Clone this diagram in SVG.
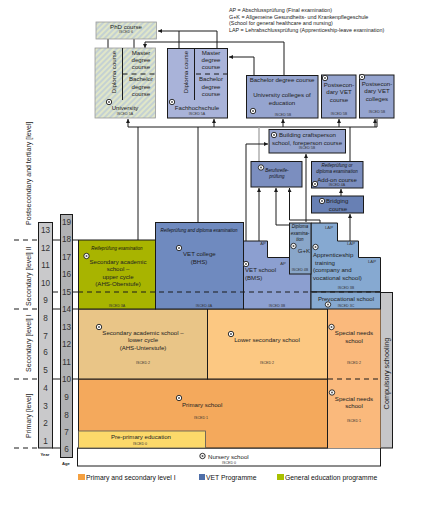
<svg xmlns="http://www.w3.org/2000/svg" width="423" height="513" viewBox="0 0 423 513">
<style>
text{font-family:"Liberation Sans",Arial,sans-serif;fill:#222;font-size:6.1px}
.m{text-anchor:middle}
.s{font-size:3.6px;text-anchor:middle;fill:#333}
.e{font-size:4.5px;font-style:italic;text-anchor:middle;fill:#111}
.l{font-size:4.2px;text-anchor:middle;fill:#333}
.n{font-size:8.2px;text-anchor:middle;fill:#333}
.k{font-size:6.8px;fill:#111}
.v{font-size:7px}
.y{font-size:4.2px;font-weight:bold;text-anchor:middle;fill:#222}
.b{stroke:#1a1a1a;stroke-width:1}
.c{fill:none;stroke:#1a1a1a;stroke-width:1}
.d{fill:none;stroke:#1a1a1a;stroke-width:1;stroke-dasharray:5 4}
.o{fill:#fff;stroke:#1a1a1a;stroke-width:.9}
.i{fill:#555}
</style>
<defs>
<pattern id="h" width="4" height="4" patternUnits="userSpaceOnUse" patternTransform="rotate(45)">
<rect width="4" height="4" fill="#e0e6c8"/><rect width="2" height="4" fill="#c4d1d3"/>
</pattern>
<marker id="a" markerWidth="5" markerHeight="5" refX="4" refY="2" orient="auto" markerUnits="userSpaceOnUse"><path d="M0 0L4 2L0 4Z" fill="#1a1a1a"/></marker>
<symbol id="q" viewBox="-3 -3 6 6" overflow="visible"><circle r="2.7" class="o"/><circle r="1" class="i"/></symbol>
</defs>

<g id="connectors">
<path class="c" d="M128 127H377V119M138 127V240M198 127V222M350 127V161" />
<path class="c" d="M259 127V161" style="stroke:#aaa;stroke-width:1.4"/>
<path class="c" d="M128 127V119" marker-end="url(#a)"/>
<path class="c" d="M214 127V119" marker-end="url(#a)"/>
<path class="c" d="M283 127V119" marker-end="url(#a)"/>
<path class="c" d="M339 127V119" marker-end="url(#a)"/>
<path class="c" d="M375 127V119" marker-end="url(#a)"/>
<path class="c" d="M217 48V31H158" marker-end="url(#a)"/>
<path class="c" d="M179 31V48M108 39V48M134 39V48"/>
<path class="c" d="M284 75V42H145V48" marker-end="url(#a)"/>
<path class="c" d="M254 75V57H229" marker-end="url(#a)"/>
<path class="c" d="M246 241V144H268" marker-end="url(#a)"/>
<path class="c" d="M259 241V188" marker-end="url(#a)"/>
<path class="c" d="M289 225H276V188" marker-end="url(#a)"/>
<path class="c" d="M320 224V220H289.500V188" marker-end="url(#a)"/>
<path class="c" d="M306 222V154" marker-end="url(#a)"/>
<path class="c" d="M341 196V189" marker-end="url(#a)"/>
<path class="c" d="M350 241V214" marker-end="url(#a)"/>
</g>

<g id="scale">
<rect x="38.500" y="222.500" width="14" height="225.500" fill="#c9c9cb" class="b"/>
<rect x="60.500" y="214.500" width="12" height="243" fill="#b1b2b4" class="b"/>
<path class="c" d="M52 240H60M72 240H78M52 309H60M72 309H78M52 379H60M72 379H78M52 448H60"/>
<path class="d" d="M14 240H38M14 309H38M14 379H38M14 448H38"/>
<path class="d" d="M53 292H60M73 292H78" stroke-dasharray="3 2"/>
<g>
<text class="n" x="45.500" y="233">13</text><text class="n" x="45.500" y="251">12</text><text class="n" x="45.500" y="268">11</text><text class="n" x="45.500" y="286">10</text><text class="n" x="45.500" y="303">9</text><text class="n" x="45.500" y="321">8</text><text class="n" x="45.500" y="339">7</text><text class="n" x="45.500" y="355">6</text><text class="n" x="45.500" y="373">5</text><text class="n" x="45.500" y="391">4</text><text class="n" x="45.500" y="409">3</text><text class="n" x="45.500" y="426">2</text><text class="n" x="45.500" y="444">1</text>
<text class="n" x="66.500" y="225">19</text><text class="n" x="66.500" y="242">18</text><text class="n" x="66.500" y="260">17</text><text class="n" x="66.500" y="277">16</text><text class="n" x="66.500" y="295">15</text><text class="n" x="66.500" y="312">14</text><text class="n" x="66.500" y="330">13</text><text class="n" x="66.500" y="347">12</text><text class="n" x="66.500" y="365">11</text><text class="n" x="66.500" y="382">10</text><text class="n" x="66.500" y="400">9</text><text class="n" x="66.500" y="418">8</text><text class="n" x="66.500" y="435">7</text><text class="n" x="66.500" y="452">6</text>
</g>
<text class="y" x="45" y="456">Year</text>
<text class="y" x="66" y="465">Age</text>
<text class="v" transform="translate(31,225) rotate(-90)">Postsecondary and tertiary [level]</text>
<text class="v" transform="translate(31,306) rotate(-90)">Secondary [level] II</text>
<text class="v" transform="translate(31,372) rotate(-90)">Secondary [level] I</text>
<text class="v" transform="translate(31,438) rotate(-90)">Primary [level]</text>
</g>

<g id="phd"><rect x="96" y="22" width="60.500" height="17" fill="url(#h)" stroke="#999" stroke-width=".8"/>
<text class="m" x="126" y="28.500">PhD course</text><text class="s" x="126" y="33">ISCED 6</text></g>

<g id="university"><rect x="95" y="48" width="60.500" height="70" fill="url(#h)" stroke="#999" stroke-width=".8"/>
<path class="c" d="M122.500 48V100"/><path class="d" d="M122.500 74H156"/>
<text class="m" transform="translate(116,72) rotate(-90)">Diploma course</text>
<text class="m" x="141" y="55">Master</text><text class="m" x="141" y="62">degree</text><text class="m" x="141" y="69">course</text>
<text class="m" x="141" y="81">Bachelor</text><text class="m" x="141" y="89">degree</text><text class="m" x="141" y="96">course</text>
<use href="#q" x="106" y="99" width="6" height="6"/>
<text class="m" x="125" y="110">University</text><text class="s" x="125" y="115">ISCED 5A</text></g>

<g id="fachhochschule"><rect x="167.500" y="48.500" width="60" height="69.500" fill="#a9b3d9" class="b"/>
<path class="c" d="M194.500 48V100"/><path class="d" d="M196 74H228"/>
<text class="m" transform="translate(188,72) rotate(-90)">Diploma course</text>
<text class="m" x="211" y="55">Master</text><text class="m" x="211" y="62">degree</text><text class="m" x="211" y="69">course</text>
<text class="m" x="211" y="81">Bachelor</text><text class="m" x="211" y="89">degree</text><text class="m" x="211" y="96">course</text>
<use href="#q" x="169" y="99" width="6" height="6"/>
<text class="m" x="197" y="110">Fachhochschule</text><text class="s" x="197" y="115">ISCED 5A</text></g>

<g id="ucoe"><rect x="246.500" y="75.500" width="71.500" height="42.500" fill="#95a4cf" class="b"/>
<text class="m" x="282" y="82">Bachelor degree course</text><text class="m" x="282" y="97">University colleges of</text><text class="m" x="282" y="105">education</text>
<use href="#q" x="250" y="108" width="6" height="6"/><text class="s" x="283" y="115.500">ISCED 5B</text></g>

<g id="vetcourse"><rect x="321.500" y="75" width="34.500" height="43" fill="#95a4cf" class="b"/>
<use href="#q" x="322" y="75" width="6" height="6"/>
<text class="m" x="339" y="87">Postsecon-</text><text class="m" x="339" y="94">dary VET</text><text class="m" x="339" y="102">course</text><text class="s" x="339" y="115">ISCED 5B</text></g>

<g id="vetcolleges"><rect x="359.500" y="75" width="34.500" height="43" fill="#95a4cf" class="b"/>
<use href="#q" x="359" y="74" width="6" height="6"/>
<text class="m" x="377" y="86">Postsecon-</text><text class="m" x="377" y="93">dary VET</text><text class="m" x="377" y="101">colleges</text><text class="s" x="377" y="113">ISCED 5B</text></g>

<g id="building"><rect x="269" y="129.500" width="76.500" height="23.500" fill="#95a3cd" class="b"/>
<use href="#q" x="271" y="132" width="6" height="6"/>
<text x="279" y="137">Building craftsperson</text><text class="m" x="307" y="144.500">school, foreperson course</text><text class="s" x="307" y="149">ISCED 5B</text></g>

<g id="berufsreife"><rect x="251" y="161.500" width="51" height="25.500" fill="#7b8ebf" class="b"/>
<use href="#q" x="258" y="164.500" width="6" height="6"/>
<text class="e" x="277" y="172">Berufsreife-</text><text class="e" x="277" y="178">prüfung</text></g>

<g id="addon"><rect x="311.500" y="161.500" width="51.500" height="26.500" fill="#7b8ebf" class="b"/>
<text class="e" x="337" y="167">Reifeprüfung or</text><text class="e" x="337" y="173">diploma examination</text>
<text class="m" x="337" y="181.500">Add-on course</text><text class="s" x="337" y="185.500">ISCED 4A</text><use href="#q" x="312" y="181" width="6" height="6"/></g>

<g id="bridging"><rect x="311.500" y="196" width="52" height="17" fill="#6880b4" class="b"/>
<use href="#q" x="319" y="198" width="6" height="6"/>
<text x="326" y="203">Bridging</text><text class="m" x="338" y="211">course</text></g>

<g id="compulsory"><rect x="380.500" y="292.500" width="12" height="155.500" fill="#c6c6c8" class="b"/>
<text class="m" style="font-size:7.300px" transform="translate(388.500,373.500) rotate(-90)">Compulsory schooling</text></g>

<g id="nursery"><rect x="77.500" y="448" width="303" height="18" fill="#fff" class="b"/>
<use href="#q" x="199.500" y="453" width="6" height="6"/>
<text x="208" y="458.500">Nursery school</text><text class="s" x="229" y="463.500">ISCED 0</text></g>

<g id="primary"><rect x="78.500" y="379" width="249" height="69" fill="#f4a95c" class="b"/>
<use href="#q" x="176" y="395" width="6" height="6"/>
<text x="182" y="407">Primary school</text><text class="s" x="201" y="419">ISCED 1</text></g>

<g id="preprimary"><rect x="78.500" y="431" width="127" height="17" fill="#fcd96a" stroke="#555" stroke-width=".8"/>
<text class="m" x="141" y="439">Pre-primary education</text><text class="s" x="140" y="444.500">ISCED 0</text></g>

<g id="academic-lower"><rect x="78.500" y="309" width="129" height="70" fill="#e9c587" class="b"/>
<use href="#q" x="96" y="324" width="6" height="6"/>
<text class="m" x="143" y="335">Secondary academic school –</text><text class="m" x="143" y="342">lower cycle</text><text class="m" x="143" y="350">(AHS-Unterstufe)</text><text class="s" x="143" y="364">ISCED 2</text></g>

<g id="lower-secondary"><rect x="207.500" y="309" width="120" height="70" fill="#fcc882" class="b"/>
<use href="#q" x="228" y="331" width="6" height="6"/>
<text class="m" x="267" y="342">Lower secondary school</text><text class="s" x="267" y="364">ISCED 2</text></g>

<g id="special-2"><rect x="327.500" y="309" width="53" height="70" fill="#fab97c"/>
<use href="#q" x="328.500" y="324" width="6" height="6"/>
<text class="m" x="354" y="335">Special needs</text><text class="m" x="354" y="343">school</text><text class="s" x="354" y="364">ISCED 2</text></g>

<g id="special-1"><rect x="327.500" y="379" width="53" height="69" fill="#fab97c"/>
<use href="#q" x="329" y="389.500" width="6" height="6"/>
<text class="m" x="354" y="400.500">Special needs</text><text class="m" x="354" y="408">school</text><text class="s" x="354" y="422">ISCED 1</text></g>

<g id="ahs-upper"><rect x="78.500" y="240" width="77" height="69" fill="#a8b400" class="b"/>
<text class="e" x="117" y="250">Reifeprüfung examination</text>
<use href="#q" x="83.500" y="253" width="6" height="6"/>
<text class="m" x="118" y="264">Secondary academic</text><text class="m" x="118" y="270.500">school –</text><text class="m" x="118" y="279">upper cycle</text><text class="m" x="118" y="286">(AHS-Oberstufe)</text><text class="s" x="117" y="306.500">ISCED 3A</text></g>

<g id="vet-college"><rect x="155.500" y="222.500" width="88" height="86.500" fill="#6f8abf" class="b"/>
<text class="e" x="199" y="231.500">Reifeprüfung and diploma examination</text>
<use href="#q" x="176" y="245" width="6" height="6"/>
<text x="183" y="256">VET college</text><text class="m" x="199" y="264">(BHS)</text><text class="s" x="204" y="306.500">ISCED 4A</text></g>

<g id="vet-school"><path d="M243.500 309V241H267.500V257.500H311V309Z" fill="#8c9fd0" class="b"/>
<text class="l" x="263" y="245">AP</text><text class="l" x="283" y="265">AP</text>
<use href="#q" x="243" y="261" width="6" height="6"/>
<text x="245" y="272">VET school</text><text x="245" y="280">(BMS)</text><text class="s" x="277" y="306.500">ISCED 3B</text></g>

<g id="apprenticeship"><path d="M311 292V223H337.500V241H358.500V257.500H380.500V292Z" fill="#86a9d1" class="b"/>
<text class="l" x="329" y="229">LAP</text><text class="l" x="351" y="245">LAP</text><text class="l" x="372" y="263">LAP</text>
<use href="#q" x="312.500" y="244" width="6" height="6"/>
<text x="313" y="257">Apprenticeship</text><text x="315" y="264.500">training</text><text x="313" y="271.500">(company and</text><text x="313" y="279.500">vocational school)</text><text class="s" x="346" y="288.500">ISCED 3B</text></g>

<g id="diploma"><rect x="289.500" y="223" width="21.500" height="51" fill="#89a6c9" class="b"/>
<text class="e" x="300" y="228">Diploma</text><text class="e" x="300" y="234.500">examina-</text><text class="e" x="300" y="240.500">tion</text>
<use href="#q" x="290.500" y="243" width="6" height="6"/>
<text class="m" x="304" y="253">G+K</text><text class="s" x="300" y="270.500">ISCED 4B</text></g>

<g id="prevocational"><rect x="311" y="292" width="69.500" height="17" fill="#86a9d1" class="b"/>
<text class="m" x="346" y="301">Prevocational school</text>
<use href="#q" x="325" y="301.500" width="6" height="6"/><text class="s" x="346" y="306.500">ISCED 3C</text></g>

<g id="dividers">
<path class="d" d="M78 292H380"/>
<path class="c" d="M327.500 309V448"/>
<path class="d" d="M328 379H380"/>
</g>

<g id="legend">
<rect x="78" y="474" width="7" height="6" fill="#f4a040"/><text class="k" x="86" y="479.500">Primary and secondary level I</text>
<rect x="199" y="474" width="6" height="6" fill="#4f6ea8"/><text class="k" x="206" y="479.500">VET Programme</text>
<rect x="277" y="474" width="7" height="6" fill="#a8c000"/><text class="k" x="285" y="479.500">General education programme</text>
</g>

<g id="notes">
<text x="229" y="12" style="font-size:5.400px">AP = Abschlussprüfung (Final examination)</text>
<text x="229" y="19" style="font-size:5.400px">G+K = Allgemeine Gesundheits- und Krankenpflegeschule</text>
<text x="229" y="25" style="font-size:5.400px">(School for general healthcare and nursing)</text>
<text x="229" y="32" style="font-size:5.400px">LAP = Lehrabschlussprüfung (Apprenticeship-leave examination)</text>
</g>
</svg>
